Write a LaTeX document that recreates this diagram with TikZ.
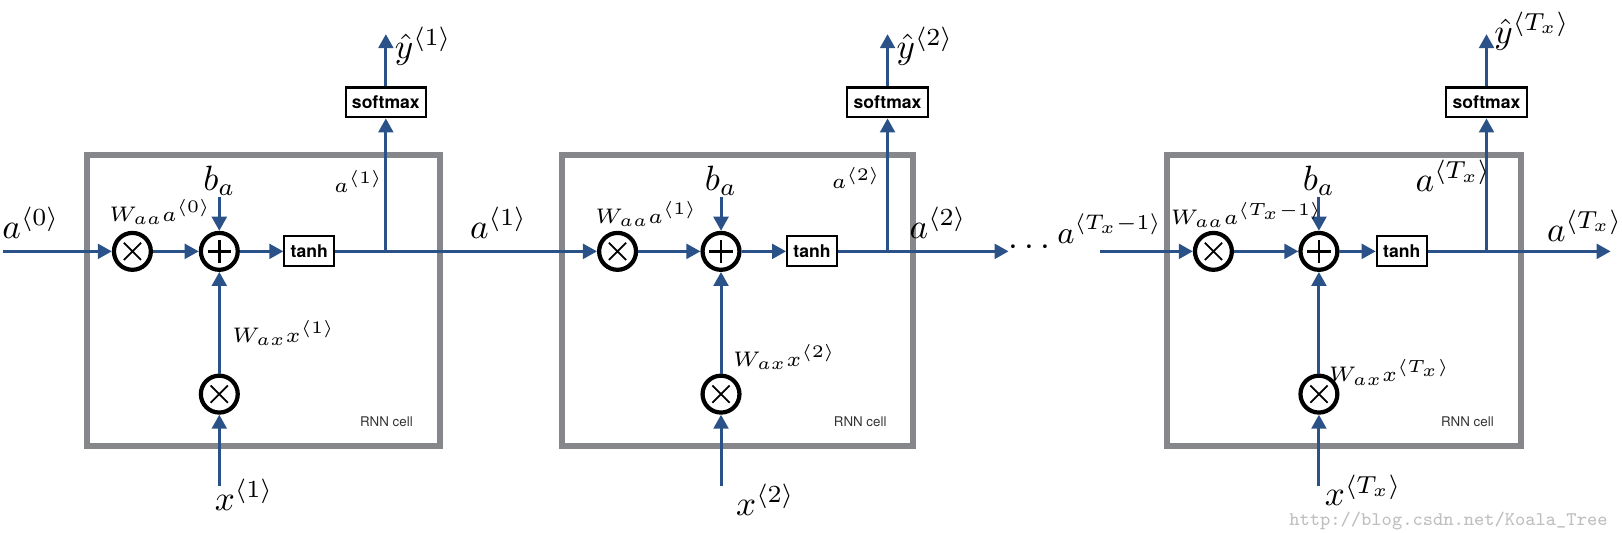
\documentclass[tikz,border=0pt]{standalone}
\usepackage{amsmath}
\usepackage{fontspec}
\setsansfont{TeX Gyre Heros}
\usetikzlibrary{arrows.meta}
\definecolor{lineblue}{HTML}{2B5288}
\definecolor{cellgray}{HTML}{86878B}
\tikzset{
  link/.style={draw=lineblue, line width=0.85pt, -{Triangle[length=4pt,width=4.2pt]}},
  plain/.style={draw=lineblue, line width=0.85pt},
  cellbox/.style={draw=cellgray, line width=1.7pt},
  mul/.style={circle, draw, line width=1.2pt, minimum size=10.5pt, inner sep=0pt,
    path picture={\draw[line width=0.5pt] (path picture bounding box.south west)++(2.8pt,2.8pt) -- ++(4.9pt,4.9pt)
      (path picture bounding box.north west)++(2.8pt,-2.8pt) -- ++(4.9pt,-4.9pt);}},
  add/.style={circle, draw, line width=1.2pt, minimum size=10.5pt, inner sep=0pt,
    path picture={\draw[line width=0.7pt] (path picture bounding box.center)++(-3.3pt,0) -- ++(6.6pt,0)
      (path picture bounding box.center)++(0,-3.3pt) -- ++(0,6.6pt);}},
  fbox/.style={draw, line width=0.6pt, inner sep=1.8pt, minimum height=8.5pt, font=\sffamily\bfseries\fontsize{5}{6}\selectfont},
  big/.style={font=\fontsize{10}{12}\selectfont, inner sep=0pt},
  small/.style={font=\fontsize{6}{7}\selectfont, inner sep=0pt},
  rnn/.style={font=\sffamily\fontsize{3.8}{4}\selectfont, text=black!80},
}
% #1 name, #2 box left, #3 box right, #4 times x, #5 plus x, #6 tanh x, #7 branch x
\newcommand\rnncell[7]{%
  \draw[cellbox] (#2,150) rectangle (#3,431);
  \node[mul] (#1m) at (#4,243) {};
  \node[add] (#1p) at (#5,243) {};
  \node[fbox] (#1t) at (#6,243) {tanh};
  \coordinate (#1b) at (#7,243);
  \node[fbox] (#1s) at (#7,99) {softmax};
  \coordinate (#1y) at (#7,33);
  \node[mul] (#1x) at (#5,381) {};
  \coordinate (#1xs) at (#5,470);
  \node[big, anchor=south] (#1ba) at (#5,190) {$b_a$};
  \node[rnn, anchor=east] (#1rc) at ({#3-14},408) {RNN cell};
  \draw[link] (#1m) -- (#1p);
  \draw[link] (#1p) -- (#1t);
  \draw[link] (#1x) -- (#1p);
  \draw[link] (#1xs) -- (#1x);
  \draw[link] (#1ba) -- (#1p);
  \draw[plain] (#1t) -- (#1b);
  \draw[link] (#1b) -- (#1s);
  \draw[link] (#1s) -- (#1y);
}
\begin{document}
\begin{tikzpicture}[x=0.01034cm, y=-0.01034cm]
\useasboundingbox (0,0) rectangle (1568,514.5);

\rnncell{c1}{84}{425}{128}{212}{299}{373}
\rnncell{c2}{543}{883}{597}{697}{785}{858}
\rnncell{c3}{1128}{1470}{1173}{1275}{1355}{1437}

% inputs and links between cells
\coordinate (in0) at (3,243);
\draw[link] (in0) -- (c1m);
\draw[link] (c1b) -- (c2m);
\coordinate (out2) at (975,243);
\draw[link] (c2b) -- (out2);
\node[big] (dots) at (998,239) {$\cdots$};
\coordinate (in3) at (1063,243);
\draw[link] (in3) -- (c3m);
\coordinate (out3) at (1557,243);
\draw[link] (c3b) -- (out3);

% labels cell 1
\node[big] (la0) at (30,215) {$a^{\langle 0\rangle}$};
\node[small] (lw1) at (155,205) {$W_{aa}a^{\langle 0\rangle}$};
\node[small, anchor=west] (lwx1) at (224,322) {$W_{ax}x^{\langle 1\rangle}$};
\node[small] (la1s) at (347,175) {$a^{\langle 1\rangle}$};
\node[big] (la1) at (482,215) {$a^{\langle 1\rangle}$};
\node[big, anchor=west] (ly1) at (381,45) {$\hat{y}^{\langle 1\rangle}$};
\node[big] (lx1) at (236,478) {$x^{\langle 1\rangle}$};

% labels cell 2
\node[small] (lw2) at (625,207) {$W_{aa}a^{\langle 1\rangle}$};
\node[small, anchor=west] (lwx2) at (708,345) {$W_{ax}x^{\langle 2\rangle}$};
\node[small] (la2s) at (828,172) {$a^{\langle 2\rangle}$};
\node[big] (la2) at (907,215) {$a^{\langle 2\rangle}$};
\node[big, anchor=west] (ly2) at (866,45) {$\hat{y}^{\langle 2\rangle}$};
\node[big] (lx2) at (740,483) {$x^{\langle 2\rangle}$};

% labels cell 3
\node[big, font=\fontsize{9}{11}\selectfont, anchor=south east] (la3i) at (1124,236) {$a^{\langle T_x-1\rangle}$};
\node[small] (lw3) at (1205,208) {$W_{aa}a^{\langle T_x-1\rangle}$};
\node[small, anchor=west] (lwx3) at (1284,360) {$W_{ax}x^{\langle T_x\rangle}$};
\node[big] (la3s) at (1405,170) {$a^{\langle T_x\rangle}$};
\node[big] (la3) at (1532,218) {$a^{\langle T_x\rangle}$};
\node[big, anchor=west] (ly3) at (1444,30) {$\hat{y}^{\langle T_x\rangle}$};
\node[big] (lx3) at (1318,474) {$x^{\langle T_x\rangle}$};

\node[font=\ttfamily\fontsize{5.5}{7}\selectfont, text=black!25, anchor=east] (wm) at (1566,504) {http://blog.csdn.net/Koala\_Tree};
\end{tikzpicture}
\end{document}
